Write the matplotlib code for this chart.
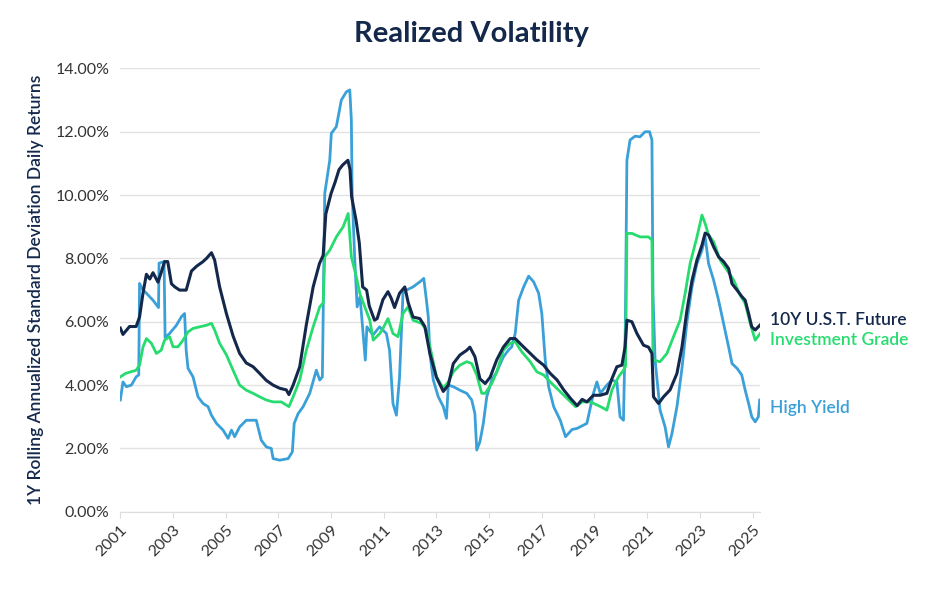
import matplotlib
matplotlib.use("Agg")
import matplotlib.pyplot as plt

plt.rcParams['font.family'] = ['Lato', 'DejaVu Sans']

# decimal years and annualized vol (%)
ust_years = [2001.00, 2001.10, 2001.35, 2001.60, 2001.73, 2001.86, 2001.99, 2002.12, 2002.24, 2002.43,
             2002.55, 2002.68, 2002.80, 2002.94, 2003.07, 2003.25, 2003.50, 2003.70, 2003.89, 2004.14,
             2004.27, 2004.46, 2004.58, 2004.77, 2005.03, 2005.28, 2005.53, 2005.78, 2006.04, 2006.29,
             2006.54, 2006.80, 2007.05, 2007.30, 2007.40, 2007.56, 2007.81, 2008.06, 2008.32, 2008.56,
             2008.70, 2008.80, 2009.00, 2009.15, 2009.30, 2009.44, 2009.64, 2009.72, 2009.78, 2009.95,
             2010.07, 2010.20, 2010.35, 2010.45, 2010.65, 2010.75, 2010.97, 2011.16, 2011.28, 2011.41,
             2011.60, 2011.80, 2011.93, 2012.11, 2012.37, 2012.56, 2012.75, 2013.00, 2013.26, 2013.45,
             2013.64, 2013.89, 2014.15, 2014.27, 2014.46, 2014.65, 2014.85, 2015.04, 2015.29, 2015.54,
             2015.80, 2015.99, 2016.24, 2016.56, 2016.81, 2017.07, 2017.32, 2017.58, 2017.83, 2018.09,
             2018.34, 2018.53, 2018.71, 2018.96, 2019.22, 2019.47, 2019.66, 2019.85, 2020.04, 2020.16,
             2020.23, 2020.42, 2020.61, 2020.86, 2021.05, 2021.18, 2021.24, 2021.43, 2021.62, 2021.87,
             2022.13, 2022.32, 2022.51, 2022.70, 2022.89, 2023.08, 2023.20, 2023.33, 2023.52, 2023.71,
             2023.90, 2024.09, 2024.22, 2024.41, 2024.59, 2024.72, 2024.85, 2024.97, 2025.10, 2025.29]
ust_vol = [5.8, 5.6, 5.85, 5.85, 6.15, 6.9, 7.5, 7.35, 7.55, 7.25,
           7.55, 7.9, 7.9, 7.2, 7.1, 7.0, 7.0, 7.6, 7.75, 7.9,
           8.0, 8.18, 7.95, 7.1, 6.25, 5.55, 5.0, 4.7, 4.58, 4.37,
           4.15, 4.0, 3.9, 3.85, 3.7, 4.0, 4.58, 5.9, 7.1, 7.84,
           8.1, 9.4, 10.05, 10.4, 10.8, 10.95, 11.1, 10.8, 9.95, 9.2,
           8.5, 7.1, 7.0, 6.5, 6.05, 6.1, 6.7, 6.95, 6.75, 6.45,
           6.9, 7.1, 6.6, 6.15, 6.1, 5.85, 5.0, 4.25, 3.8, 4.0,
           4.68, 4.95, 5.1, 5.2, 4.9, 4.2, 4.05, 4.25, 4.8, 5.2,
           5.47, 5.47, 5.26, 5.0, 4.8, 4.63, 4.37, 4.16, 3.85, 3.58,
           3.35, 3.55, 3.47, 3.68, 3.68, 3.74, 4.2, 4.58, 4.63, 5.2,
           6.05, 6.0, 5.63, 5.26, 5.2, 5.0, 3.63, 3.42, 3.63, 3.85,
           4.37, 5.2, 6.37, 7.3, 7.95, 8.42, 8.8, 8.74, 8.37, 8.05,
           7.9, 7.68, 7.2, 7.0, 6.8, 6.68, 6.26, 5.84, 5.74, 5.9]

ig_years = [2001.00, 2001.20, 2001.60, 2001.73, 2001.86, 2001.99, 2002.18, 2002.37, 2002.55, 2002.68,
            2002.87, 2003.00, 2003.19, 2003.38, 2003.57, 2003.76, 2004.01, 2004.27, 2004.46, 2004.58,
            2004.77, 2005.03, 2005.28, 2005.53, 2005.78, 2006.04, 2006.29, 2006.54, 2006.80, 2007.11,
            2007.40, 2007.56, 2007.81, 2008.06, 2008.32, 2008.57, 2008.70, 2008.76, 2008.95, 2009.20,
            2009.46, 2009.65, 2009.77, 2009.96, 2010.09, 2010.28, 2010.47, 2010.60, 2010.85, 2010.97,
            2011.16, 2011.35, 2011.54, 2011.73, 2011.92, 2012.11, 2012.43, 2012.62, 2012.81, 2013.00,
            2013.26, 2013.45, 2013.64, 2013.89, 2014.15, 2014.34, 2014.53, 2014.72, 2014.85, 2015.10,
            2015.29, 2015.54, 2015.80, 2015.99, 2016.24, 2016.56, 2016.81, 2017.07, 2017.32, 2017.64,
            2017.96, 2018.28, 2018.53, 2018.85, 2019.23, 2019.47, 2019.66, 2019.91, 2020.10, 2020.18,
            2020.23, 2020.42, 2020.73, 2021.05, 2021.18, 2021.22, 2021.49, 2021.75, 2022.00, 2022.25,
            2022.44, 2022.63, 2022.89, 2023.08, 2023.20, 2023.33, 2023.52, 2023.77, 2024.03, 2024.28,
            2024.53, 2024.72, 2024.91, 2025.10, 2025.29]
ig_vol = [4.26, 4.37, 4.47, 4.63, 5.2, 5.47, 5.32, 5.0, 5.1, 5.42,
          5.53, 5.21, 5.21, 5.42, 5.68, 5.79, 5.84, 5.89, 5.95, 5.74,
          5.32, 4.95, 4.47, 4.0, 3.84, 3.74, 3.63, 3.53, 3.47, 3.47,
          3.32, 3.63, 4.16, 5.1, 5.84, 6.47, 6.6, 8.05, 8.26, 8.68,
          9.0, 9.42, 8.05, 7.42, 6.9, 6.47, 6.05, 5.42, 5.63, 5.79,
          6.1, 5.63, 5.53, 6.26, 6.47, 6.05, 5.95, 5.74, 5.0, 4.26,
          3.9, 4.1, 4.42, 4.63, 4.74, 4.68, 4.32, 3.74, 3.74, 4.05,
          4.42, 5.1, 5.32, 5.37, 5.05, 4.74, 4.42, 4.32, 4.1, 3.84,
          3.58, 3.32, 3.47, 3.47, 3.32, 3.21, 3.84, 4.26, 4.47, 4.6,
          8.79, 8.79, 8.68, 8.68, 8.58, 4.79, 4.74, 5.0, 5.53, 6.05,
          6.89, 7.84, 8.68, 9.37, 9.1, 8.74, 8.53, 7.95, 7.63, 7.32,
          6.84, 6.58, 5.95, 5.42, 5.63]

hy_years = [2001.00, 2001.10, 2001.23, 2001.42, 2001.60, 2001.70, 2001.73, 2001.86, 2001.99, 2002.24,
            2002.45, 2002.47, 2002.66, 2002.70, 2002.87, 2003.13, 2003.32, 2003.44, 2003.50, 2003.57,
            2003.76, 2003.95, 2004.14, 2004.33, 2004.46, 2004.65, 2004.90, 2005.09, 2005.22, 2005.34,
            2005.53, 2005.78, 2006.16, 2006.35, 2006.54, 2006.73, 2006.80, 2007.05, 2007.37, 2007.53,
            2007.60, 2007.75, 2007.94, 2008.19, 2008.44, 2008.57, 2008.67, 2008.76, 2008.95, 2009.01,
            2009.20, 2009.39, 2009.58, 2009.71, 2009.77, 2009.80, 2009.90, 2009.99, 2010.10, 2010.30,
            2010.36, 2010.59, 2010.84, 2011.10, 2011.22, 2011.35, 2011.48, 2011.60, 2011.73, 2011.86,
            2012.11, 2012.37, 2012.52, 2012.62, 2012.69, 2012.75, 2012.88, 2013.07, 2013.26, 2013.38,
            2013.45, 2013.64, 2013.89, 2014.15, 2014.34, 2014.46, 2014.53, 2014.65, 2014.78, 2014.91,
            2015.10, 2015.29, 2015.54, 2015.73, 2015.86, 2015.99, 2016.12, 2016.31, 2016.50, 2016.69,
            2016.88, 2017.00, 2017.13, 2017.26, 2017.45, 2017.70, 2017.90, 2018.15, 2018.33, 2018.71,
            2018.96, 2019.09, 2019.22, 2019.47, 2019.66, 2019.85, 2019.97, 2020.10, 2020.17, 2020.23,
            2020.35, 2020.54, 2020.73, 2020.92, 2021.09, 2021.18, 2021.22, 2021.30, 2021.49, 2021.68,
            2021.81, 2021.94, 2022.13, 2022.32, 2022.51, 2022.70, 2022.89, 2023.08, 2023.20, 2023.33,
            2023.52, 2023.71, 2023.90, 2024.09, 2024.22, 2024.41, 2024.59, 2024.72, 2024.85, 2024.97,
            2025.10, 2025.22, 2025.27]
hy_vol = [3.53, 4.1, 3.95, 4.0, 4.26, 4.32, 7.21, 7.0, 6.9, 6.68,
          6.45, 7.85, 7.9, 5.5, 5.63, 5.89, 6.16, 6.26, 5.1, 4.53,
          4.26, 3.63, 3.42, 3.32, 3.05, 2.79, 2.58, 2.32, 2.58, 2.37,
          2.68, 2.89, 2.89, 2.26, 2.05, 2.0, 1.68, 1.63, 1.68, 1.89,
          2.79, 3.1, 3.32, 3.74, 4.47, 4.16, 4.26, 10.05, 11.1, 11.95,
          12.16, 13.0, 13.26, 13.32, 12.37, 10.05, 7.95, 6.47, 6.79, 4.79,
          5.84, 5.58, 5.84, 5.63, 5.1, 3.42, 3.05, 4.26, 6.9, 7.0,
          7.1, 7.26, 7.37, 6.68, 6.16, 5.0, 4.16, 3.63, 3.32, 2.95,
          4.0, 3.95, 3.84, 3.74, 3.53, 3.1, 1.95, 2.21, 2.79, 3.63,
          4.16, 4.42, 4.89, 5.1, 5.21, 5.63, 6.68, 7.1, 7.44, 7.26,
          6.9, 6.26, 4.79, 3.95, 3.32, 2.89, 2.37, 2.6, 2.63, 2.79,
          3.74, 4.1, 3.74, 4.0, 4.16, 4.1, 3.0, 2.89, 5.84, 11.1,
          11.74, 11.86, 11.84, 12.0, 12.0, 11.74, 6.89, 4.79, 3.21, 2.68,
          2.05, 2.47, 3.32, 4.53, 6.0, 7.1, 7.84, 8.26, 8.68, 7.84,
          7.32, 6.68, 5.95, 5.21, 4.68, 4.53, 4.32, 3.84, 3.42, 3.0,
          2.84, 3.0, 3.53]

year_ticks = list(range(2001, 2026, 2))
pct_ticks = [0, 2, 4, 6, 8, 10, 12, 14]

navy = '#14284b'
green = '#27dc6f'
blue = '#3aa0d8'

fig = plt.figure(figsize=(9.4, 6), dpi=100)
ax = fig.add_axes([0.128, 0.147, 0.681, 0.739])

ax.plot(hy_years, hy_vol, color=blue, lw=2)
ax.plot(ig_years, ig_vol, color=green, lw=2)
ax.plot(ust_years, ust_vol, color=navy, lw=2.2)

ax.set_xlim(2001, 2025.3)
ax.set_ylim(0, 14)
ax.set_yticks(pct_ticks)
ax.set_yticklabels([f'{v:.2f}%' for v in pct_ticks])
ax.set_xticks(year_ticks)
ax.set_xticklabels([str(y) for y in year_ticks], rotation=45, ha='right', rotation_mode='anchor')

ax.grid(axis='y', color='#e2e2e2', lw=1)
ax.set_axisbelow(True)
for s in ['top', 'right', 'left']:
    ax.spines[s].set_visible(False)
ax.spines['bottom'].set_color('#dddddd')
ax.tick_params(axis='y', length=0, pad=8, labelsize=11.5, labelcolor='#333333')
ax.tick_params(axis='x', length=4, color='#dddddd', pad=4, labelsize=11.5, labelcolor='#333333')

ax.set_ylabel('1Y Rolling Annualized Standard Deviation Daily Returns', fontsize=12.5,
              color=navy, fontweight='semibold', labelpad=8)

ax.text(2025.66, 6.05, '10Y U.S.T. Future', color=navy, fontsize=12.5, fontweight='semibold',
        va='center', clip_on=False)
ax.text(2025.66, 5.42, 'Investment Grade', color=green, fontsize=12.5, fontweight='semibold',
        va='center', clip_on=False)
ax.text(2025.66, 3.27, 'High Yield', color=blue, fontsize=12.5, fontweight='semibold',
        va='center', clip_on=False)

fig.text(0.502, 0.944, 'Realized Volatility', ha='center', va='center', fontsize=21,
         fontweight='bold', color=navy)

fig.savefig('out.png', dpi=100)
